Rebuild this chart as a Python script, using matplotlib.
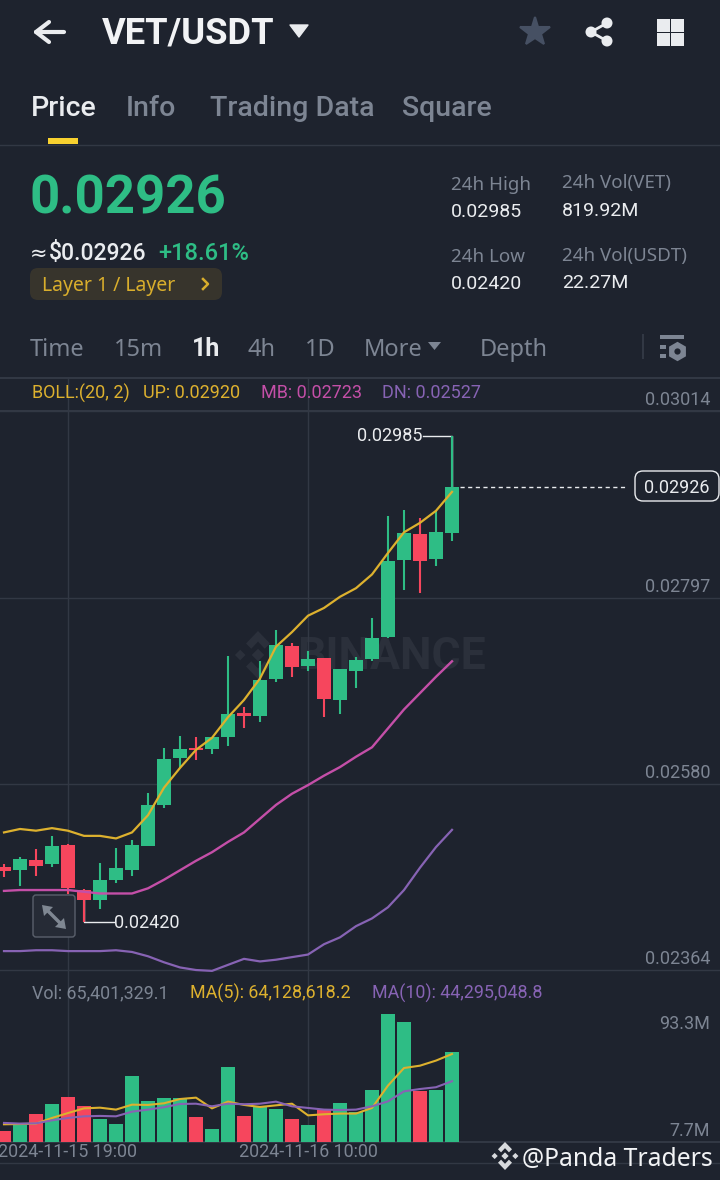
#!/usr/bin/env python3

import matplotlib
matplotlib.use('Agg')
import matplotlib.pyplot as plt
from matplotlib.patches import Polygon, Circle, Rectangle, FancyBboxPatch

# candles, oldest first
opens = [0.02484, 0.02480, 0.02492, 0.02487, 0.02509, 0.02457, 0.02445, 0.02469, 0.02480, 0.02508,
         0.02556, 0.02610, 0.02622, 0.02621, 0.02635, 0.02663, 0.02659, 0.02702, 0.02741, 0.02717,
         0.02727, 0.02678, 0.02712, 0.02726, 0.02751, 0.02841, 0.02871, 0.02842, 0.02872]
closes = [0.02479, 0.02493, 0.02485, 0.02508, 0.02459, 0.02445, 0.02469, 0.02483, 0.02509, 0.02556,
          0.02609, 0.02621, 0.02620, 0.02635, 0.02662, 0.02659, 0.02701, 0.02742, 0.02716, 0.02726,
          0.02679, 0.02714, 0.02724, 0.02750, 0.02840, 0.02872, 0.02840, 0.02873, 0.02926]
highs = [0.02487, 0.02495, 0.02505, 0.02520, 0.02510, 0.02458, 0.02489, 0.02506, 0.02515, 0.02570,
         0.02622, 0.02636, 0.02635, 0.02635, 0.02729, 0.02670, 0.02723, 0.02759, 0.02744, 0.02735,
         0.02727, 0.02714, 0.02728, 0.02773, 0.02892, 0.02899, 0.02890, 0.02898, 0.02985]
lows = [0.02472, 0.02462, 0.02473, 0.02484, 0.02452, 0.02420, 0.02435, 0.02465, 0.02473, 0.02508,
        0.02552, 0.02599, 0.02608, 0.02615, 0.02624, 0.02646, 0.02652, 0.02699, 0.02705, 0.02712,
        0.02658, 0.02662, 0.02692, 0.02723, 0.02750, 0.02806, 0.02802, 0.02834, 0.02863]

boll_up = [0.02524, 0.02528, 0.02526, 0.02529, 0.02526, 0.02520, 0.02520, 0.02517, 0.02524, 0.02544,
           0.02576, 0.02599, 0.02620, 0.02634, 0.02658, 0.02678, 0.02703, 0.02740, 0.02757, 0.02776,
           0.02785, 0.02798, 0.02808, 0.02824, 0.02849, 0.02873, 0.02884, 0.02898, 0.02920]
boll_mb = [0.02456, 0.02457, 0.02457, 0.02457, 0.02457, 0.02455, 0.02453, 0.02453, 0.02453, 0.02459,
           0.02469, 0.02480, 0.02491, 0.02501, 0.02513, 0.02524, 0.02540, 0.02556, 0.02569, 0.02579,
           0.02590, 0.02600, 0.02612, 0.02623, 0.02645, 0.02667, 0.02686, 0.02705, 0.02723]
boll_dn = [0.02386, 0.02386, 0.02387, 0.02387, 0.02386, 0.02386, 0.02386, 0.02387, 0.02385, 0.02380,
           0.02373, 0.02367, 0.02364, 0.02363, 0.02370, 0.02377, 0.02374, 0.02376, 0.02379, 0.02382,
           0.02394, 0.02402, 0.02415, 0.02424, 0.02437, 0.02457, 0.02483, 0.02507, 0.02527]

# volume in millions
volumes = [7.7, 12.6, 20.2, 27.7, 32.6, 26.5, 16.8, 13.1, 47.9, 29.7,
           32.3, 31.8, 18.0, 9.5, 54.7, 19.2, 26.0, 24.1, 16.8, 12.4,
           23.1, 28.2, 21.6, 37.7, 93.3, 87.2, 37.2, 38.1, 65.4]
vol_ma5 = [12.9, 13.1, 13.4, 17.5, 21.1, 24.5, 25.0, 23.6, 27.2, 27.0,
           28.2, 31.3, 32.3, 24.5, 29.4, 27.0, 25.5, 26.7, 27.9, 19.4,
           20.2, 20.7, 20.7, 24.8, 41.1, 53.9, 55.6, 59.3, 64.1]
vol_ma10 = [13.9, 13.4, 13.6, 15.8, 17.5, 18.7, 19.0, 18.7, 22.1, 23.6,
            25.3, 27.7, 27.9, 26.0, 27.9, 27.5, 27.9, 29.4, 26.0, 24.8,
            23.6, 23.3, 23.6, 26.0, 29.6, 36.9, 38.6, 39.9, 44.3]

price_ticks = [0.03014, 0.02797, 0.02580, 0.02364]
price_tick_labels = ['0.03014', '0.02797', '0.02580', '0.02364']
date_ticks = [4, 19]
date_labels = ['2024-11-15 19:00', '2024-11-16 10:00']

BG = '#1E232E'
GREEN = '#2EBD85'
RED = '#F6465D'
YELLOW = '#DDB12E'
MAGENTA = '#C44FA8'
PURPLE = '#8763B4'
GRAY = '#7D8593'
WHITE = '#EAECEF'
GRID = '#323844'

W, H = 720, 1180
fig = plt.figure(figsize=(W / 100, H / 100), dpi=100, facecolor=BG)


def overlay(zorder):
    ax = fig.add_axes([0, 0, 1, 1], zorder=zorder)
    ax.set_xlim(0, W)
    ax.set_ylim(H, 0)
    ax.axis('off')
    ax.patch.set_alpha(0)
    return ax


def panel(top, bottom):
    ax = fig.add_axes([0, 1 - bottom / H, 1, (bottom - top) / H], zorder=2)
    ax.set_facecolor('none')
    ax.set_xlim(-0.25, 44.75)
    for s in ax.spines.values():
        s.set_visible(False)
    ax.tick_params(length=0)
    ax.set_xticks(date_ticks)
    ax.set_xticklabels([])
    ax.grid(True, axis='x', color=GRID, lw=1)
    ax.set_axisbelow(True)
    return ax


back = overlay(1)
front = overlay(3)


def label(x, y, s, size=12, color=GRAY, font='Roboto', weight='normal', ha='left', ax=front):
    ax.text(x, y, s, fontsize=size, color=color, family=font, weight=weight, ha=ha, va='center')


def logo(ax, cx, cy, r, color):
    # binance mark, drawn from five pieces
    for dx, dy, d in [(0, 0, 0.26), (-0.74, 0, 0.22), (0.74, 0, 0.22)]:
        ax.add_patch(Polygon([(cx + (dx - d) * r, cy + dy * r), (cx + dx * r, cy + (dy - d) * r),
                              (cx + (dx + d) * r, cy + dy * r), (cx + dx * r, cy + (dy + d) * r)],
                             fc=color, ec='none'))
    for sign in (-1, 1):
        pts = [(-0.5, 0.48), (0, 1), (0.5, 0.48), (0.28, 0.26), (0, 0.56), (-0.28, 0.26)]
        ax.add_patch(Polygon([(cx + a * r, cy + sign * b * r) for a, b in pts], fc=color, ec='none'))


# header
front.plot([36, 64], [32, 32], color=WHITE, lw=3, solid_capstyle='round')
front.plot([49, 36, 49], [22, 32, 42], color=WHITE, lw=3, solid_capstyle='round', solid_joinstyle='round')
label(102, 33, 'VET/USDT', 26.2, '#F2F3F5', 'Roboto', 'bold')
front.add_patch(Polygon([(290, 25), (308, 25), (299, 37)], fc=WHITE, ec=WHITE, lw=1, joinstyle='round'))
front.plot([535], [32], marker='*', ms=22, color='#465063', mec='#465063', mew=1.5)
for cx, cy in [(607, 23), (591, 32), (607, 41)]:
    front.add_patch(Circle((cx, cy), 5.5, fc=WHITE, ec='none'))
front.plot([607, 591, 607], [23, 32, 41], color=WHITE, lw=2)
for sx in (657, 671):
    for sy in (19, 33):
        front.add_patch(Rectangle((sx, sy), 12.5, 12.5, fc=WHITE, ec='none'))

# tabs
label(31, 109, 'Price', 20.5, WHITE, 'Roboto', 'medium')
label(126, 109, 'Info', 20.5, GRAY, 'Roboto', 'medium')
label(210, 109, 'Trading Data', 20.5, GRAY, 'Roboto', 'medium')
label(402, 109, 'Square', 20.5, GRAY, 'Roboto', 'medium')
front.add_patch(Rectangle((48, 138), 30, 6, fc='#F8D12F', ec='none'))
back.plot([0, W], [145, 145], color=GRID, lw=1)

# price block
label(30, 199, '0.02926', 38, GREEN, 'Roboto', 'bold')
label(30, 254, '≈', 15, WHITE, 'DejaVu Sans')
label(49, 254, '$0.02926', 16.5, WHITE, 'Roboto', 'medium')
label(158, 254, '+18.61%', 17, GREEN, 'Roboto', 'medium')
front.add_patch(FancyBboxPatch((36, 274), 180, 20, boxstyle='round,pad=6,rounding_size=8', fc='#37342C', ec='none'))
label(42, 286, 'Layer 1 / Layer', 14, '#D9AE2C', 'Noto Sans')
front.plot([203, 208, 203], [279, 284, 289], color='#D9AE2C', lw=1.8)

label(451, 185, '24h High', 13.5, GRAY, 'Noto Sans')
label(451, 212, '0.02985', 14, WHITE, 'Roboto')
label(451, 257, '24h Low', 13.5, GRAY, 'Noto Sans')
label(451, 284, '0.02420', 14, WHITE, 'Roboto')
label(562, 183, '24h Vol(VET)', 13.5, GRAY, 'Noto Sans')
label(562, 211, '819.92M', 14, WHITE, 'Roboto')
label(562, 256, '24h Vol(USDT)', 13.5, GRAY, 'Noto Sans')
label(562, 283, '22.27M', 14, WHITE, 'Roboto')

# interval row
label(30, 350, 'Time', 17, GRAY, 'Noto Sans')
label(114, 350, '15m', 17, GRAY, 'Noto Sans')
label(192, 349, '1h', 18, WHITE, 'Roboto', 'bold')
label(248, 350, '4h', 17, GRAY, 'Noto Sans')
label(305, 350, '1D', 17, GRAY, 'Noto Sans')
label(364, 350, 'More', 17, GRAY, 'Noto Sans')
front.add_patch(Polygon([(428, 342), (441, 342), (434.5, 350)], fc=GRAY, ec='none'))
label(480, 350, 'Depth', 17, GRAY, 'Noto Sans')
front.plot([643, 643], [335, 358], color=GRID, lw=1.5)
front.add_patch(Rectangle((660, 335), 24, 4, fc=GRAY, ec='none'))
front.add_patch(Rectangle((660, 345), 6, 4, fc=GRAY, ec='none'))
front.add_patch(Rectangle((660, 354), 6, 4, fc=GRAY, ec='none'))
front.plot([677], [351], marker='h', ms=14, mfc=GRAY, mec='none')
front.plot([677], [351], marker='o', ms=4.5, mfc=BG, mec='none')

back.plot([0, W], [378, 378], color=GRID, lw=1.5)
back.plot([0, W], [411, 411], color=GRID, lw=1.5)
label(32, 393, 'BOLL:(20, 2)', 13, YELLOW)
label(143, 393, 'UP: 0.02920', 13, YELLOW)
label(261, 393, 'MB: 0.02723', 13, MAGENTA)
label(382, 393, 'DN: 0.02527', 13, PURPLE)

# watermark sits under the candles
logo(back, 258, 655, 24, '#2B303B')
back.text(297, 657, 'BINANCE', fontsize=32, color='#2B303B', family='Roboto', weight='bold', va='center', ha='left')

# candles
ax = panel(378, 980)
ax.set_ylim(0.023524, 0.030524)
ax.set_yticks(price_ticks)
ax.set_yticklabels([])
ax.grid(True, axis='y', color=GRID, lw=1)
xs = list(range(len(opens)))
cols = [GREEN if c >= o else RED for o, c in zip(opens, closes)]
ax.vlines(xs, lows, highs, colors=cols, lw=1.5, zorder=3)
ax.bar(xs, [max(abs(c - o), 0.00002) for o, c in zip(opens, closes)], bottom=[min(o, c) for o, c in zip(opens, closes)],
       width=0.875, color=cols, zorder=3)
ax.plot(xs, boll_up, color=YELLOW, lw=1.6, zorder=4)
ax.plot(xs, boll_mb, color=MAGENTA, lw=1.7, zorder=4)
ax.plot(xs, boll_dn, color=PURPLE, lw=1.6, zorder=4)
for p, s in zip(price_ticks, price_tick_labels):
    ax.annotate(s, xy=(1, p), xycoords=ax.get_yaxis_transform(), xytext=(-10, 2), textcoords='offset pixels',
                ha='right', va='bottom', fontsize=13, color=GRAY, family='Roboto')

# high / low tags and last price
ax.plot([26.2, 28, 28], [0.02985, 0.02985, 0.02926], color=WHITE, lw=1, zorder=2)
ax.vlines([28], [0.02926], [0.02985], colors=GREEN, lw=1.5, zorder=3)
ax.plot([5, 5, 6.9], [0.02445, 0.02420, 0.02420], color=WHITE, lw=1, zorder=2)
ax.vlines([5], [0.02420], [0.02445], colors=RED, lw=1.5, zorder=3)
ax.plot([28.5, 38.8], [0.02926, 0.02926], color=WHITE, lw=1, dashes=(3, 2.5), zorder=2)
label(423, 436, '0.02985', 13, WHITE, ha='right')
label(114, 923, '0.02420', 13, WHITE)
front.add_patch(FancyBboxPatch((643, 479), 68, 14, boxstyle='round,pad=8,rounding_size=8', fc=BG, ec=WHITE, lw=1))
label(677, 488, '0.02926', 13, WHITE, ha='center')

# expand button
front.add_patch(FancyBboxPatch((36, 898), 36, 36, boxstyle='round,pad=3,rounding_size=3', fc='#262B36', ec='#5A606C', lw=1))
front.plot([46, 62], [909, 925], color='#7F8792', lw=2.5)
front.add_patch(Polygon([(42, 905), (53, 907), (44, 916)], fc='#7F8792', ec='none'))
front.add_patch(Polygon([(66, 929), (55, 927), (64, 918)], fc='#7F8792', ec='none'))

# volume
vax = panel(980, 1142)
vax.set_ylim(0, 118)
vax.set_yticks([])
vax.bar(xs, volumes, width=0.875, color=cols, zorder=3)
vax.plot(xs, vol_ma5, color=YELLOW, lw=1.5, zorder=4)
vax.plot(xs, vol_ma10, color=PURPLE, lw=1.5, zorder=4)
vax.set_xticklabels(date_labels, fontsize=12.9, color=GRAY, family='Roboto')
vax.tick_params(axis='x', pad=1)
vax.spines['bottom'].set_visible(True)
vax.spines['bottom'].set_color(GRID)
vax.spines['bottom'].set_linewidth(1.5)
vax.text(0.986, 92.5, '93.3M', transform=vax.get_yaxis_transform(), ha='right', va='top', fontsize=13, color=GRAY, family='Roboto')
vax.text(0.986, 7.7, '7.7M', transform=vax.get_yaxis_transform(), ha='right', va='center', fontsize=13, color=GRAY, family='Roboto')
label(32, 993, 'Vol: 65,401,329.1', 12.9, GRAY)
label(190, 993, 'MA(5): 64,128,618.2', 12.9, YELLOW)
label(372, 993, 'MA(10): 44,295,048.8', 12.9, PURPLE)
back.plot([0, W], [1163, 1163], color=GRID, lw=1)

# credit in the corner
logo(front, 505, 1156, 14, '#D8DADD')
label(522, 1159, '@Panda Traders', 17.8, '#F2F3F5', 'Noto Sans')

fig.savefig('out.png', dpi=100, facecolor=BG)
